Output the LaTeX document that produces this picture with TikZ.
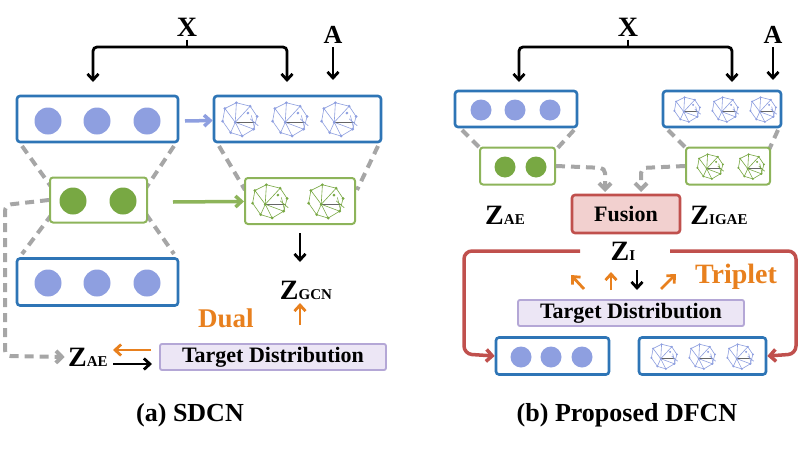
\documentclass[tikz,border=0pt]{standalone}
\usepackage{fontspec}
\setmainfont{Liberation Serif}
\usetikzlibrary{arrows.meta}
\definecolor{bl}{HTML}{2E75B6}
\definecolor{nodeb}{HTML}{8E9FE0}
\definecolor{gr}{HTML}{8DB45A}
\definecolor{nodeg}{HTML}{78A843}
\definecolor{og}{HTML}{E8801E}
\definecolor{rd}{HTML}{C0504D}
\definecolor{rdf}{HTML}{F2D0CF}
\definecolor{pu}{HTML}{B4A7D6}
\definecolor{puf}{HTML}{ECE6F5}
\definecolor{dg}{HTML}{A6A6A6}
\tikzset{
 bbox/.style={draw=bl,line width=2.6pt,rounded corners=3pt,fill=white},
 gbox/.style={draw=gr,line width=2pt,rounded corners=3pt,fill=white},
 dot/.style={circle,fill=#1,inner sep=0pt},
 arr/.style={line width=2.8pt,-{Straight Barb[length=6pt,width=11pt]}},
 gdash/.style={dg,line width=4pt,dash pattern=on 9pt off 6pt},
 lab/.style={font=\bfseries},
 tbox/.style={draw=pu,fill=puf,line width=1.8pt,rounded corners=2pt,font=\fontsize{22}{24}\selectfont\bfseries,inner sep=3pt},
 pics/graph/.style={code={
  \begin{scope}[#1,line width=0.6pt]
   \draw (-14,-10)--(-4,-15)--(8,-12)--(14,-3)--(11,8)--(1,14)--(-9,11)--(-16,1)--cycle;
   \foreach \p in {(-14,-10),(-4,-15),(8,-12),(11,8),(1,14),(-9,11)} \draw (-5,2)--\p;
   \draw[black!60] (-5,2)--(12,2);
   \draw (9,-4)--(12,8); \draw (8,-1)--(15,5);
   \foreach \p in {(-14,-10),(-4,-15),(8,-12),(14,-3),(11,8),(1,14),(-9,11),(-16,1),(-5,2),(6,-6)} \fill \p circle (1.3pt);
  \end{scope}}}
}
\newcommand{\zlab}[1]{{\fontsize{28}{28}\selectfont Z}{\fontsize{15}{15}\selectfont #1}}
\begin{document}
\begin{tikzpicture}[x=1pt,y=-1pt]
\useasboundingbox (0,0) rectangle (804,450);
% ===== left panel =====
\node[lab,font=\fontsize{28}{28}\selectfont\bfseries] (X1) at (187,27) {X};
\node[lab,font=\fontsize{26}{26}\selectfont\bfseries] (A1) at (333,35) {A};
\coordinate (x1m) at (187,47);
\draw[line width=2.8pt] (X1.south) -- (x1m);
\draw[arr,rounded corners=4pt] (x1m) -- (93,47) -- (93,82);
\draw[arr,rounded corners=4pt] (x1m) -- (287,47) -- (287,82);
\draw[arr] (A1.south) -- (333,80);
% hourglass dashes
\draw[gdash] (22,146)--(52,188); \draw[gdash] (174,146)--(146,188);
\draw[gdash] (52,214)--(22,254); \draw[gdash] (146,214)--(174,254);
\draw[gdash] (219,146)--(245,190); \draw[gdash] (378,146)--(357,190);
\node[bbox,minimum width=161pt,minimum height=46pt] (e1) at (97.5,119) {};
\foreach \x in {48,97,147} \node[dot=nodeb,minimum size=27pt] at (\x,121) {};
\node[bbox,minimum width=167pt,minimum height=46pt] (g1) at (297.5,119) {};
\foreach \x in {241,291,340} \pic[nodeb] at (\x,120) {graph={scale=1.15}};
\node[gbox,minimum width=97pt,minimum height=45pt] (e2) at (98.5,200) {};
\foreach \x in {73,123} \node[dot=nodeg,minimum size=27pt] at (\x,201) {};
\node[gbox,minimum width=110pt,minimum height=46pt] (g2) at (300,201) {};
\foreach \x in {271,327} \pic[nodeg] at (\x,202) {graph={scale=1.15}};
\node[bbox,minimum width=161pt,minimum height=47pt] (e3) at (97.5,282) {};
\foreach \x in {48,97,147} \node[dot=nodeb,minimum size=27pt] at (\x,283) {};
\draw[arr,nodeb,line width=3.5pt] (185,121) -- (g1);
\draw[arr,gr,line width=3.5pt] (173,202) -- (g2);
\node[lab] (zg) at (306,290) {\zlab{GCN}};
\draw[arr,black] (300,233) -- (300,262);
\node[tbox,minimum width=226pt] (t1) at (273,357) {Target Distribution};
\draw[arr,og] (300,325) -- (300,303);
\node[lab,og,font=\fontsize{27}{27}\selectfont\bfseries] at (226,318) {Dual};
\node[lab] (za) at (88,357) {\zlab{AE}};
\coordinate (d1) at (5,205);
\draw[gdash,-{Straight Barb[length=6pt,width=12pt]},rounded corners=6pt] (e2.west) -- (d1) -- (5,356) -- (za.west);
\draw[arr,og] (151,350) -- (113,350);
\draw[arr,black] (113,364) -- (152,364);
\node[font=\fontsize{26}{26}\selectfont\bfseries] at (190,415) {(a) SDCN};
% ===== right panel =====
\node[lab,font=\fontsize{28}{28}\selectfont\bfseries] (X2) at (628,27) {X};
\node[lab,font=\fontsize{26}{26}\selectfont\bfseries] (A2) at (773,35) {A};
\coordinate (x2m) at (628,47);
\draw[line width=2.8pt] (X2.south) -- (x2m);
\draw[arr,rounded corners=4pt] (x2m) -- (519,47) -- (519,82);
\draw[arr,rounded corners=4pt] (x2m) -- (732,47) -- (732,82);
\draw[arr] (A2.south) -- (773,80);
\draw[gdash] (462,130)--(484,152); \draw[gdash] (574,130)--(554,152);
\draw[gdash] (668,130)--(690,152); \draw[gdash] (778,130)--(768,152);
\node[bbox,minimum width=122pt,minimum height=36pt] (e4) at (516,109) {};
\foreach \x in {481,515,550} \node[dot=nodeb,minimum size=21pt] at (\x,110) {};
\node[bbox,minimum width=118pt,minimum height=36pt] (g4) at (722,109) {};
\foreach \x in {688,726,764} \pic[nodeb] at (\x,110) {graph={scale=0.85}};
\node[gbox,minimum width=75pt,minimum height=37pt] (e5) at (517.5,166) {};
\foreach \x in {505,536} \node[dot=nodeg,minimum size=21pt] at (\x,167) {};
\node[gbox,minimum width=84pt,minimum height=37pt] (g5) at (728,166) {};
\foreach \x in {711,752} \pic[nodeg] at (\x,167) {graph={scale=0.85}};
\node[draw=rd,fill=rdf,line width=2.6pt,rounded corners=3pt,minimum width=108pt,minimum height=38pt,font=\fontsize{22}{24}\selectfont\bfseries] (fu) at (626,214) {Fusion};
\draw[gdash,-{Straight Barb[length=6pt,width=12pt]},rounded corners=5pt] (e5.east) -- (605,168) -- (605,192);
\draw[gdash,-{Straight Barb[length=6pt,width=12pt]},rounded corners=5pt] (g5.west) -- (641,168) -- (641,192);
\node[lab] at (505,215) {\zlab{AE}};
\node[lab] at (719,215) {\zlab{IGAE}};
\node[lab] (zi) at (623,251) {\zlab{I}};
\node[tbox,minimum width=226pt] (t2) at (631,313) {Target Distribution};
\node[bbox,minimum width=113pt,minimum height=37pt] (e6) at (552.5,356) {};
\foreach \x in {521,551,582} \node[dot=nodeb,minimum size=21pt] at (\x,357) {};
\node[bbox,minimum width=127pt,minimum height=37pt] (g6) at (702.5,356) {};
\foreach \x in {665,703,741} \pic[nodeb] at (\x,357) {graph={scale=0.85}};
\draw[rd,line width=3.5pt,rounded corners=8pt,-{Straight Barb[length=6pt,width=12pt]}] (580,251) -- (464,251) -- (464,354) -- (e6.west);
\draw[rd,line width=3.5pt,rounded corners=8pt,-{Straight Barb[length=6pt,width=12pt]}] (670,251) -- (796,251) -- (796,354) -- (g6.east);
\draw[arr,og] (584,289) -- (571,275);
\draw[arr,og] (611,290) -- (611,272);
\draw[arr,black] (637,270) -- (637,290);
\draw[arr,og] (661,289) -- (676,274);
\node[lab,og,font=\fontsize{28}{28}\selectfont\bfseries] at (736,277) {Triplet};
\node[font=\fontsize{26}{26}\selectfont\bfseries] at (627,415) {(b) Proposed DFCN};
\end{tikzpicture}
\end{document}
